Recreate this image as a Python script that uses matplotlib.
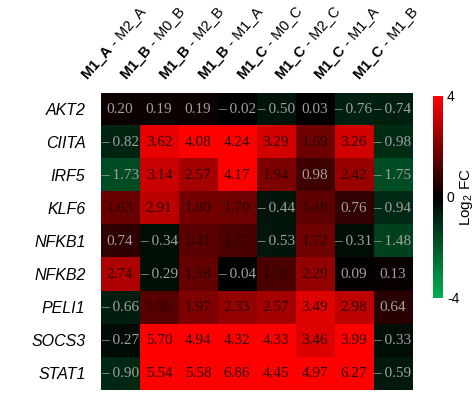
import numpy as np
import matplotlib
matplotlib.use("Agg")
from matplotlib import pyplot as plt
from matplotlib.colors import LinearSegmentedColormap

genes = ["AKT2", "CIITA", "IRF5", "KLF6", "NFKB1", "NFKB2", "PELI1", "SOCS3", "STAT1"]
bold_part = ["M1_A", "M1_B", "M1_B", "M1_B", "M1_C", "M1_C", "M1_C", "M1_C"]
rest_part = ["M2_A", "M0_B", "M2_B", "M1_A", "M0_C", "M2_C", "M1_A", "M1_B"]

akt2 = [0.20, 0.19, 0.19, -0.02, -0.50, 0.03, -0.76, -0.74]
ciita = [-0.82, 3.62, 4.08, 4.24, 3.29, 1.69, 3.26, -0.98]
irf5 = [-1.73, 3.14, 2.57, 4.17, 1.94, 0.98, 2.42, -1.75]
klf6 = [1.63, 2.91, 1.80, 1.70, -0.44, 1.49, 0.76, -0.94]
nfkb1 = [0.74, -0.34, 1.41, 1.17, -0.53, 1.72, -0.31, -1.48]
nfkb2 = [2.74, -0.29, 1.58, -0.04, 1.18, 2.29, 0.09, 0.13]
peli1 = [-0.66, 1.36, 1.97, 2.33, 2.57, 3.49, 2.98, 0.64]
socs3 = [-0.27, 5.70, 4.94, 4.32, 4.33, 3.46, 3.99, -0.33]
stat1 = [-0.90, 5.54, 5.58, 6.86, 4.45, 4.97, 6.27, -0.59]

data = np.array([akt2, ciita, irf5, klf6, nfkb1, nfkb2, peli1, socs3, stat1])

plt.rcParams["font.family"] = ["Liberation Sans", "DejaVu Sans"]
plt.rcParams["mathtext.fontset"] = "custom"
plt.rcParams["mathtext.rm"] = "Liberation Sans"
plt.rcParams["mathtext.bf"] = "Liberation Sans:bold"
plt.rcParams["axes.unicode_minus"] = False

cmap = LinearSegmentedColormap.from_list("gkr", ["#00B050", "#000000", "#FF0000"])

fig = plt.figure(figsize=(4.74, 3.95), dpi=100)
ax = fig.add_axes([0.192, 0.013, 0.677, 0.752])
im = ax.imshow(data, cmap=cmap, vmin=-4, vmax=4, aspect="auto")

for i in range(data.shape[0]):
    for j in range(data.shape[1]):
        v = data[i, j]
        s = "%.2f" % abs(v)
        if v < 0:
            s = "\u2013 " + s
        c = "#2a0505" if v > 1.0 else "#a0a0a0"
        ax.text(j, i, s, ha="center", va="center", color=c, fontsize=11,
                family=["Liberation Serif", "DejaVu Serif"])

ax.set_yticks(range(len(genes)))
ax.set_yticklabels(genes, fontsize=11.5, style="italic")
ax.xaxis.tick_top()
# labels start left of the column centre, like the reference
ax.set_xticks(np.arange(len(bold_part)) - 0.75)
labels = [r"$\mathbf{%s}$ - %s" % (b.replace("_", r"\_"), r) for b, r in zip(bold_part, rest_part)]
ax.set_xticklabels(labels, rotation=49, ha="left", va="bottom",
                   rotation_mode="anchor", fontsize=10.5)
ax.tick_params(axis="x", length=0, pad=6)
ax.tick_params(axis="y", length=0, pad=4)
for sp in ax.spines.values():
    sp.set_visible(False)

cax = fig.add_axes([0.913, 0.246, 0.021, 0.511])
cb = fig.colorbar(im, cax=cax, ticks=[-4, 0, 4])
cb.outline.set_visible(False)
cb.ax.tick_params(length=0, labelsize=10, pad=3)
cb.set_label("Log$_2$ FC", fontsize=11, labelpad=-1)

plt.savefig("out.png", dpi=100)
